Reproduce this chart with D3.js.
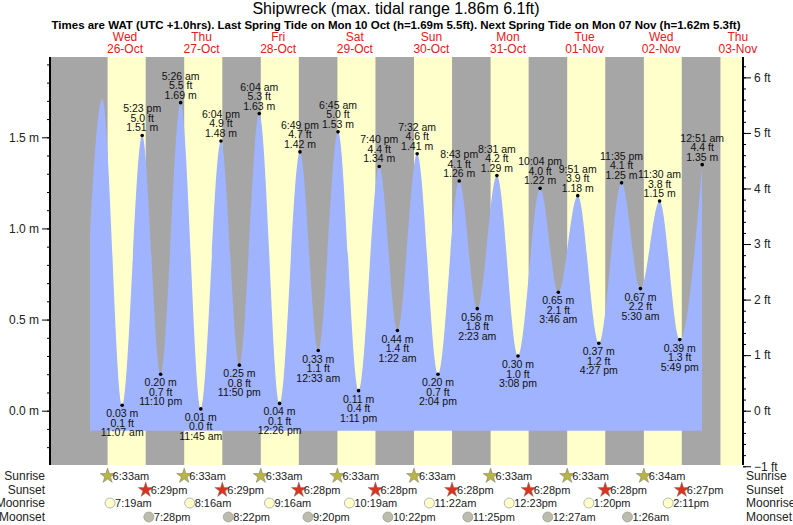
<!DOCTYPE html>
<html>
<head>
<meta charset="utf-8">
<script src="https://cdn.jsdelivr.net/npm/d3@7"></script>
<style>
  body { margin: 0; background: #fff; }
  text { font-family: "Liberation Sans", Arial, sans-serif; }
</style>
</head>
<body>
<svg id="chart" width="793" height="525"></svg>
<script>
// tide extremes: time, day offset from 26-Oct, metres, feet
const tideTimes = ["11:07 am","5:23 pm","11:10 pm","5:26 am","11:45 am","6:04 pm","11:50 pm","6:04 am","12:26 pm","6:49 pm",
  "12:33 am","6:45 am","1:11 pm","7:40 pm","1:22 am","7:32 am","2:04 pm","8:43 pm","2:23 am","8:31 am",
  "3:08 pm","10:04 pm","3:46 am","9:51 am","4:27 pm","11:35 pm","5:30 am","11:30 am","5:49 pm","12:51 am"];
const tideDays = [0,0,0,1,1,1,1,2,2,2,3,3,3,3,4,4,4,4,5,5,5,5,6,6,6,6,7,7,7,8];
const tideM = [0.03,1.51,0.20,1.69,0.01,1.48,0.25,1.63,0.04,1.42,0.33,1.53,0.11,1.34,0.44,1.41,0.20,1.26,0.56,1.29,
  0.30,1.22,0.65,1.18,0.37,1.25,0.67,1.15,0.39,1.35];
const tideFt = ["0.1","5.0","0.7","5.5","0.0","4.9","0.8","5.3","0.1","4.7","1.1","5.0","0.4","4.4","1.4","4.6","0.7","4.1","1.8","4.2",
  "1.0","4.0","2.1","3.9","1.2","4.1","2.2","3.8","1.3","4.4"];
// unlabelled extremes at the left edge (estimated)
const leadTimes = ["10:48 pm","4:54 am"];
const leadDays = [-1,0];
const leadM = [0.15,1.71];

const dayNames = ["Wed","Thu","Fri","Sat","Sun","Mon","Tue","Wed","Thu"];
const dayDates = ["26-Oct","27-Oct","28-Oct","29-Oct","30-Oct","31-Oct","01-Nov","02-Nov","03-Nov"];
const sunrise = ["6:33am","6:33am","6:33am","6:33am","6:33am","6:33am","6:33am","6:34am","6:34am"];
const sunset = ["6:29pm","6:29pm","6:28pm","6:28pm","6:28pm","6:28pm","6:28pm","6:27pm","6:27pm"];
const moonriseDays = [0,1,2,3,4,5,6,7];
const moonrise = ["7:19am","8:16am","9:16am","10:19am","11:22am","12:23pm","1:20pm","2:11pm"];
const moonsetDays = [0,1,2,3,4,6,7];
const moonset = ["7:28pm","8:22pm","9:20pm","10:22pm","11:25pm","12:27am","1:26am"];

function hours(day, s) {
  const m = s.match(/(\d+):(\d+)\s*(am|pm)/);
  let h = +m[1] % 12 + (+m[2]) / 60;
  if (m[3] === "pm") h += 12;
  return day * 24 + h;
}

const svg = d3.select("#chart");
const pL = 50, pR = 743, pT = 57, pB = 465;
const x = d3.scaleLinear().domain([0, 24]).range([86.7, 86.7 + 76.6]);
const y = d3.scaleLinear().domain([0, 1.5]).range([410.7, 137.3]);
const yFt = d3.scaleLinear().domain([0, 6]).range([y(0), y(6 * 0.3048)]);

// background: night grey, day yellow
svg.append("rect").attr("x", pL).attr("y", pT).attr("width", pR - pL).attr("height", pB - pT).attr("fill", "#a6a6a6");
sunrise.forEach((s, i) => {
  const x0 = Math.max(pL, x(hours(i, s)));
  const x1 = Math.min(pR, x(hours(i, sunset[i])));
  svg.append("rect").attr("x", x0).attr("y", pT).attr("width", x1 - x0).attr("height", pB - pT).attr("fill", "#ffffcc");
});

// tide area
const pts = leadM.map((m, i) => ({t: hours(leadDays[i], leadTimes[i]), m}))
  .concat(tideM.map((m, i) => ({t: hours(tideDays[i], tideTimes[i]), m})));
svg.append("clipPath").attr("id", "tclip").append("rect")
  .attr("x", 90).attr("y", pT).attr("width", x(pts[pts.length - 1].t) - 90).attr("height", pB - pT);
const area = d3.area().curve(d3.curveMonotoneX).x(d => x(d.t)).y0(y(-0.11)).y1(d => y(d.m));
svg.append("path").datum(pts).attr("d", area).attr("fill", "#9fb3ff").attr("clip-path", "url(#tclip)");

// labels on extremes
tideM.forEach((m, i) => {
  const t = hours(tideDays[i], tideTimes[i]);
  const cx = x(t), cy = y(m);
  const high = i === 0 ? false : m > tideM[i - 1];
  svg.append("circle").attr("cx", cx).attr("cy", cy).attr("r", 1.8).attr("fill", "#000");
  const lines = high ? [tideTimes[i], tideFt[i] + " ft", m.toFixed(2) + " m"] : [m.toFixed(2) + " m", tideFt[i] + " ft", tideTimes[i]];
  lines.forEach((l, k) => {
    const ly = high ? cy - 4 - (2 - k) * 9.5 : cy + 12 + k * 9.5;
    svg.append("text").attr("x", cx).attr("y", ly).attr("text-anchor", "middle")
      .attr("font-size", 10.5).attr("fill", "#111").text(l);
  });
});

// axes
svg.append("g").attr("transform", `translate(${pL},0)`)
  .call(d3.axisLeft(y).tickValues([0, 0.5, 1.0, 1.5]).tickFormat(d => d.toFixed(1) + " m").tickSize(8));
svg.append("g").attr("transform", `translate(${pL},0)`)
  .call(d3.axisLeft(y).tickValues(d3.range(-2, 20).map(d => d / 10)).tickFormat("").tickSize(3));
svg.append("g").attr("transform", `translate(${pR},0)`)
  .call(d3.axisRight(yFt).tickValues(d3.range(-1, 7)).tickFormat(d => (d < 0 ? "\u22121" : d) + " ft").tickSize(8));
svg.append("g").attr("transform", `translate(${pR},0)`)
  .call(d3.axisRight(yFt).tickValues(d3.range(-5, 32).map(d => d / 5)).tickFormat("").tickSize(3));
svg.selectAll(".domain").remove();
svg.append("line").attr("x1", pL).attr("x2", pL).attr("y1", pT).attr("y2", pB).attr("stroke", "#000").attr("stroke-width", 2);
svg.append("line").attr("x1", pR).attr("x2", pR).attr("y1", pT).attr("y2", pB).attr("stroke", "#000").attr("stroke-width", 2);
svg.selectAll(".tick text").attr("font-size", 12).attr("fill", "#222")
  .attr("font-family", "Liberation Sans, Arial, sans-serif");

// titles
svg.append("text").attr("x", 396).attr("y", 14).attr("text-anchor", "middle").attr("font-size", 16).text("Shipwreck (max. tidal range 1.86m 6.1ft)");
svg.append("text").attr("x", 396).attr("y", 29).attr("text-anchor", "middle").attr("font-size", 11.5).attr("font-weight", "bold")
  .text("Times are WAT (UTC +1.0hrs). Last Spring Tide on Mon 10 Oct (h=1.69m 5.5ft). Next Spring Tide on Mon 07 Nov (h=1.62m 5.3ft)");
dayNames.forEach((d, i) => {
  const cx = x(i * 24 + 12);
  svg.append("text").attr("x", cx).attr("y", 41).attr("text-anchor", "middle").attr("font-size", 12).attr("fill", "#e0201a").text(d);
  svg.append("text").attr("x", cx).attr("y", 53).attr("text-anchor", "middle").attr("font-size", 12).attr("fill", "#e0201a").text(dayDates[i]);
});

// sun & moon rows
const rows = ["Sunrise", "Sunset", "Moonrise", "Moonset"];
const rowY = [476, 490, 503, 517];
rows.forEach((r, i) => {
  svg.append("text").attr("x", 45).attr("y", rowY[i] + 4).attr("text-anchor", "end").attr("font-size", 12).attr("fill", "#222").text(r);
  svg.append("text").attr("x", 746).attr("y", rowY[i] + 4).attr("font-size", 12).attr("fill", "#222").text(r);
});
const star = d3.symbol().type(d3.symbolStar).size(70);
function rowItem(t, label, row, kind) {
  const cx = x(t), cy = rowY[row];
  if (cx > pR) return;
  if (kind === "star") {
    svg.append("path").attr("d", star).attr("transform", `translate(${cx},${cy})`)
      .attr("fill", row === 0 ? "#b8b540" : "#d8341f").attr("stroke", "#777").attr("stroke-width", 0.5);
  } else {
    svg.append("circle").attr("cx", cx).attr("cy", cy).attr("r", 5)
      .attr("fill", row === 2 ? "#ffffcc" : "#bcbcac").attr("stroke", "#999").attr("stroke-width", 0.7);
  }
  svg.append("text").attr("x", cx + 5).attr("y", cy + 4).attr("font-size", 11).attr("fill", "#222").text(label);
}
sunrise.slice(0, 8).forEach((s, i) => rowItem(hours(i, s), s, 0, "star"));
sunset.slice(0, 8).forEach((s, i) => rowItem(hours(i, s), s, 1, "star"));
moonrise.forEach((s, i) => rowItem(hours(moonriseDays[i], s), s, 2, "moon"));
moonset.forEach((s, i) => rowItem(hours(moonsetDays[i], s), s, 3, "moon"));
</script>
</body>
</html>
